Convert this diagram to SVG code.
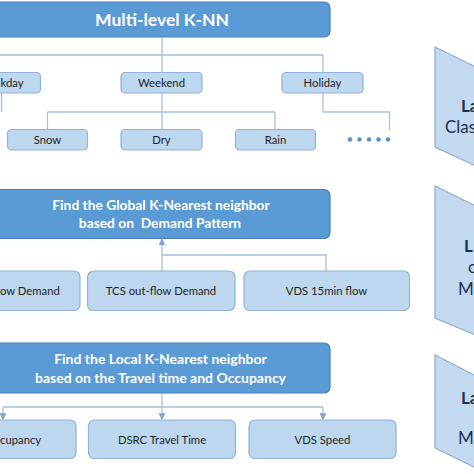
<svg xmlns="http://www.w3.org/2000/svg" width="474" height="474" viewBox="0 0 474 474">
<style>
.dark{fill:#5b9bd5;stroke:#4a7fbd;stroke-width:1.2}
.lite{fill:#bdd7ee;stroke:#8fb3da;stroke-width:1.2}
.panel{fill:#c3d9f0;stroke:#8eadd3;stroke-width:1.2}
.tw{font-family:Lato,"Open Sans",sans-serif;font-weight:bold;fill:#ffffff;text-anchor:middle}
.tb{font-family:Lato,"Open Sans",sans-serif;font-size:11.3px;fill:#1e1e1e;text-anchor:middle}
.tp{font-family:Lato,"Open Sans",sans-serif;font-size:17px;fill:#1c3150}
.conn line,.conn polyline{stroke:#a3c1e1;stroke-width:1.3;fill:none}
</style>
<defs>
<marker id="ah" viewBox="0 0 10 10" refX="9" refY="5" markerWidth="7" markerHeight="7" orient="auto" markerUnits="userSpaceOnUse">
<path d="M0,0 L10,5 L0,10 z" fill="#7fa6d6"/>
</marker>
</defs>
<rect width="474" height="474" fill="#ffffff"/>

<g id="panels">
<g id="panel1"><polygon class="panel" points="435,47 480,69 480,168 435,147"/>
<text class="tp" x="461" y="112" font-weight="bold">La</text>
<text class="tp" x="445" y="133">Clas</text></g>
<g id="panel2"><polygon class="panel" points="435,186 480,208 480,337 435,318"/>
<text class="tp" x="464" y="252" font-weight="bold">L</text>
<text class="tp" x="468" y="273">o</text>
<text class="tp" x="458" y="295">M</text></g>
<g id="panel3"><polygon class="panel" points="435,355 480,378 480,470 435,448"/>
<text class="tp" x="461" y="404" font-weight="bold">La</text>
<text class="tp" x="458" y="444">M</text></g>
</g>

<g class="conn" id="connectors">
<line x1="162" y1="37" x2="162" y2="72.5"/>
<line x1="0" y1="55" x2="323" y2="55"/>
<line x1="323" y1="55" x2="323" y2="72.5"/>
<line x1="1.5" y1="93" x2="1.5" y2="112"/>
<line x1="162" y1="93" x2="162" y2="129.5"/>
<line x1="47.5" y1="112" x2="275" y2="112"/>
<line x1="47.5" y1="112" x2="47.5" y2="129.5"/>
<line x1="275" y1="112" x2="275" y2="129.5"/>
<polyline points="323,93 323,112 389.5,112 389.5,130"/>
<line x1="162" y1="271" x2="162" y2="239" marker-end="url(#ah)"/>
<polyline points="162,255 326,255 326,271"/>
<line x1="162" y1="393" x2="162" y2="419.5" marker-end="url(#ah)"/>
<line x1="3" y1="407" x2="323" y2="407"/>
<line x1="3" y1="407" x2="3" y2="419.5" marker-end="url(#ah)"/>
<line x1="323" y1="407" x2="323" y2="419.5" marker-end="url(#ah)"/>
</g>

<g id="title"><rect class="dark" x="-10" y="2" width="340" height="35" rx="6"/>
<text class="tw" x="162" y="26" font-size="17.5">Multi-level K-NN</text></g>

<g id="weekday"><rect class="lite" x="-20" y="72.5" width="60.5" height="20.5" rx="4"/>
<text class="tb" x="0.5" y="87" style="text-anchor:start">kday</text></g>
<g id="weekend"><rect class="lite" x="121" y="72.5" width="81" height="20.5" rx="4"/>
<text class="tb" x="161.5" y="87">Weekend</text></g>
<g id="holiday"><rect class="lite" x="282" y="72.5" width="81" height="20.5" rx="4"/>
<text class="tb" x="322.5" y="87">Holiday</text></g>

<g id="snow"><rect class="lite" x="7.5" y="129.5" width="80" height="20.5" rx="4"/>
<text class="tb" x="47.5" y="144">Snow</text></g>
<g id="dry"><rect class="lite" x="121" y="129.5" width="81" height="20.5" rx="4"/>
<text class="tb" x="161.5" y="144">Dry</text></g>
<g id="rain"><rect class="lite" x="235.5" y="129.5" width="80" height="20.5" rx="4"/>
<text class="tb" x="275.5" y="144">Rain</text></g>
<g id="more" fill="#5b8fcc">
<circle cx="350" cy="139.5" r="2.2"/><circle cx="359.5" cy="139.5" r="2.2"/><circle cx="369" cy="139.5" r="2.2"/><circle cx="378.5" cy="139.5" r="2.2"/><circle cx="388" cy="139.5" r="2.2"/>
</g>

<g id="global"><rect class="dark" x="-10" y="189.5" width="340" height="49" rx="6"/>
<text class="tw" x="161" y="210" font-size="13.8">Find the Global K-Nearest neighbor</text>
<text class="tw" x="160" y="228" font-size="13.8" xml:space="preserve">based on  Demand Pattern</text></g>

<g id="inflow"><rect class="lite" x="-20" y="271" width="100" height="39.5" rx="6"/>
<text class="tb" x="0" y="295" style="text-anchor:start">ow Demand</text></g>
<g id="tcs"><rect class="lite" x="87.5" y="271" width="147.5" height="39.5" rx="6"/>
<text class="tb" x="161" y="295">TCS out-flow Demand</text></g>
<g id="vds15"><rect class="lite" x="244" y="271" width="165.5" height="39.5" rx="6"/>
<text class="tb" x="326.5" y="295">VDS 15min flow</text></g>

<g id="local"><rect class="dark" x="-10" y="343" width="340" height="50" rx="6"/>
<text class="tw" x="160.5" y="364" font-size="14">Find the Local K-Nearest neighbor</text>
<text class="tw" x="160.5" y="382.5" font-size="14">based on the Travel time and Occupancy</text></g>

<g id="occupancy"><rect class="lite" x="-20" y="420" width="96" height="38.5" rx="6"/>
<text class="tb" x="0" y="443.5" style="text-anchor:start">cupancy</text></g>
<g id="dsrc"><rect class="lite" x="88.5" y="420" width="147" height="38.5" rx="6"/>
<text class="tb" x="162" y="443.5">DSRC Travel Time</text></g>
<g id="vdsspeed"><rect class="lite" x="249" y="420" width="147" height="38.5" rx="6"/>
<text class="tb" x="322.5" y="443.5">VDS Speed</text></g>
</svg>
